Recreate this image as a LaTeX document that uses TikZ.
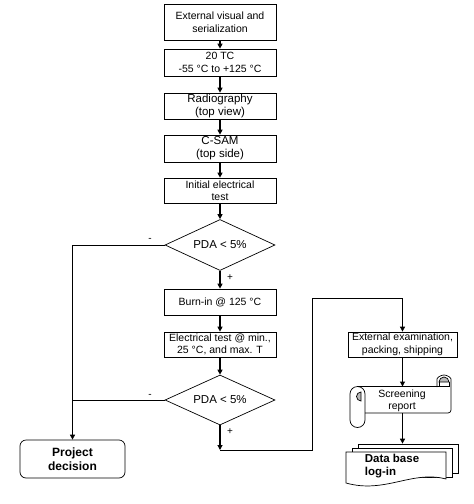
\documentclass[tikz,border=0pt]{standalone}
\usepackage{fontspec}
\setmainfont{Liberation Sans}
\usetikzlibrary{shapes.geometric,arrows.meta}

\begin{document}
\begin{tikzpicture}[
        x=1pt, y=-1pt,
        >={Triangle[length=5pt,width=5pt]},
        line width=0.7pt,
        stepbox/.style={rectangle, draw, minimum width=112pt, minimum height=26pt, inner sep=1pt, align=center, font=\fontsize{10.5}{12.5}\selectfont},
        bigstep/.style={stepbox, font=\fontsize{11.5}{13}\selectfont},
        decision/.style={diamond, draw, aspect=2.2, minimum width=110pt, minimum height=51pt, inner sep=0pt, font=\fontsize{11.5}{13}\selectfont},
        endbox/.style={rectangle, draw, rounded corners=6pt, minimum width=105pt, minimum height=38pt, align=center, font=\fontsize{12}{14}\selectfont\bfseries},
        page/.style={rectangle, draw, fill=white, minimum width=100pt, minimum height=29pt},
        flow/.style={->, line width=1.1pt},
        branch/.style={->, line width=0.7pt},
        sign/.style={inner sep=1pt, font=\fontsize{10}{11}\selectfont}
    ]

    \useasboundingbox (0,0) rectangle (474,504);

    % ==========================================
    % SCREENING STEPS (main column)
    % ==========================================
    \node[stepbox, minimum height=36pt] (visual) at (220,22) {External visual and\\serialization};
    \node[stepbox, minimum height=27pt] (cycles) at (220,62.5) {20 TC\\-55 °C to +125 °C};
    \node[bigstep] (xray) at (220,106) {Radiography\\(top view)};
    \node[bigstep, minimum height=27pt] (csam) at (220,148.5) {C-SAM\\(top side)};
    \node[stepbox, minimum height=25pt] (initest) at (220,190.5) {Initial electrical\\test};

    \node[decision] (pda1) at (220,245) {PDA < 5\%};
    \node[stepbox] (burnin) at (220,302) {Burn-in @ 125 °C};
    \node[stepbox, minimum height=25pt] (eltest) at (220,344.5) {Electrical test @ min.,\\25 °C, and max. T};
    \node[decision, minimum height=50pt] (pda2) at (220,400) {PDA < 5\%};
    \coordinate (merge) at (220,450);

    % Connections
    \draw[flow] (visual) -- (cycles);
    \draw[flow] (cycles) -- (xray);
    \draw[flow] (xray) -- (csam);
    \draw[flow] (csam) -- (initest);
    \draw[flow] (initest) -- (pda1);
    \draw[flow] (pda1) -- (burnin);
    \draw[flow] (burnin) -- (eltest);
    \draw[flow] (eltest) -- (pda2);
    \draw[flow] (pda2.south) -- (merge);

    \node[sign] (plus1) at (230,278) {+};
    \node[sign] (plus2) at (230,432) {+};

    % ==========================================
    % FAILURE BRANCH (left)
    % ==========================================
    \node[endbox] (decide) at (72.5,459) {Project\\decision};

    \draw[branch] (pda1.west) -- (pda1.west -| decide.north) -- (decide.north);
    \draw (pda2.west) -- (pda2.west -| decide.north);

    \node[sign] (minus1) at (150,240) {-};
    \node[sign] (minus2) at (150,396) {-};

    % ==========================================
    % SHIPPING BRANCH (right)
    % ==========================================
    \node[stepbox, minimum width=109pt, minimum height=25pt] (shipping) at (402.5,344.5) {External examination,\\packing, shipping};
    \coordinate (bend) at (312,298);
    \draw[branch] (merge) -| (bend) -- (bend -| shipping.north) -- (shipping.north);

    % Screening report (scroll)
    \node[minimum width=102pt, minimum height=26pt, inner sep=0pt, align=center, font=\fontsize{10.5}{12.5}\selectfont] (report) at (402,401) {Screening\\report};
    % sheet with the rolled top-right corner
    \draw[rounded corners=3pt] (437,387) -- (437,382) arc[start angle=180, end angle=360, radius=7] -- (451,413) -- (365,413);
    \filldraw[fill=gray!55] (439,382) arc[start angle=180, end angle=360, radius=5] -- cycle;
    \draw (439,382) -- (439,387) (449,382) -- (449,387);
    % rolled tube on the left
    \draw (350,394) -- (350,420) arc[start angle=180, end angle=0, radius=7.5] -- (365,394) arc[start angle=360, end angle=180, radius=7.5];
    \draw (357.5,386.5) -- (449,386.5);
    \filldraw[fill=gray!55] (361,392) arc[start angle=270, end angle=90, radius=4.5] -- cycle;

    \draw[flow] (shipping.south) -- (shipping.south |- 0,386.5);

    % Data base (stacked pages)
    \node[page] (dbback) at (408,458.5) {};
    \node[page] (dbmid) at (402,463) {};
    \filldraw[fill=white] (346,452) -- (446,452) -- (446,479) .. controls (412,470) and (385,494) .. (346,483) -- cycle;
    \node[align=left, font=\fontsize{11.5}{13.5}\selectfont\bfseries] (dblabel) at (392,466) {Data base\\ log-in};

    \draw[branch] (shipping.south |- 0,413) -- (shipping.south |- dbback.north);

\end{tikzpicture}
\end{document}
